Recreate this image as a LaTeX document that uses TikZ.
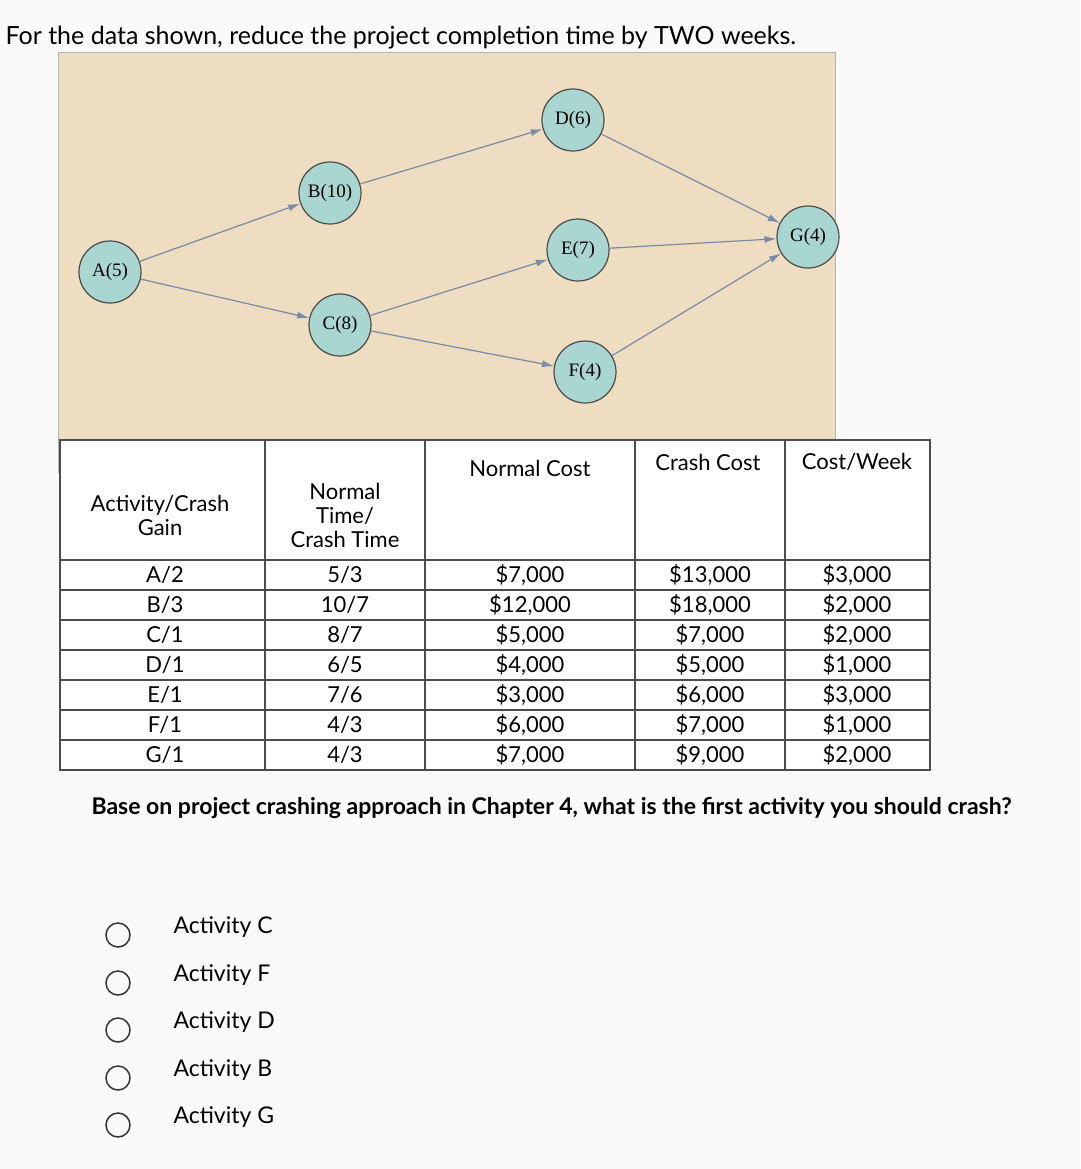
\documentclass[tikz,border=0pt]{standalone}
\usepackage{fontspec}
\setmainfont{Lato}
\newfontfamily\serifnode{Liberation Serif}
\usetikzlibrary{arrows.meta}
\definecolor{panel}{HTML}{EEDDC0}
\definecolor{nodefill}{HTML}{A9D6D0}
\definecolor{linkc}{HTML}{7A8BA8}
\begin{document}
\begin{tikzpicture}[x=1pt,y=-1pt,
  act/.style={circle,draw=black!70,line width=1.2pt,fill=nodefill,minimum size=62pt,inner sep=0pt,font=\serifnode\fontsize{19}{20}\selectfont},
  link/.style={draw=linkc,line width=1.2pt,-{Latex[length=12pt,width=7pt]}},
  cell/.style={font=\fontsize{22}{24}\selectfont,anchor=center},
  opt/.style={circle,draw=black!80,line width=1.5pt,minimum size=24pt,inner sep=0pt},
  optlab/.style={font=\fontsize{23}{25}\selectfont,anchor=west}]
\useasboundingbox[fill=gray!4] (0,0) rectangle (1080,1169);
\node[anchor=west,font=\fontsize{25}{27}\selectfont] (title) at (2,38) {For the data shown, reduce the project completion time by TWO weeks.};
\fill[panel] (58,52) rectangle (835,472);
\draw[gray!60] (58,52) rectangle (835,472);
\node[act] (A) at (110,272) {A(5)};
\node[act] (B) at (330,193) {B(10)};
\node[act] (C) at (340,325) {C(8)};
\node[act] (D) at (573,120) {D(6)};
\node[act] (E) at (578,250) {E(7)};
\node[act] (F) at (585,372) {F(4)};
\node[act] (G) at (808,237) {G(4)};
\draw[link] (A) -- (B);
\draw[link] (A) -- (C);
\draw[link] (B) -- (D);
\draw[link] (C) -- (E);
\draw[link] (C) -- (F);
\draw[link] (D) -- (G);
\draw[link] (E) -- (G);
\draw[link] (F) -- (G);
% table
\fill[white] (60,440) rectangle (930,770);
\draw[black!70,line width=1.5pt] (60,440) rectangle (930,770);
\foreach \x in {265,425,635,785} \draw[black!70,line width=1.5pt] (\x,440) -- (\x,770);
\draw[black!70,line width=1.5pt] (60,560) -- (930,560);
\foreach \y in {590,620,650,680,710,740} \draw[black!70,line width=1.2pt] (60,\y) -- (930,\y);
\node[cell,align=center] (h1) at (160,515) {Activity/Crash\\Gain};
\node[cell,align=center] (h2) at (345,515) {Normal\\Time/\\Crash Time};
\node[cell] (h3) at (530,468) {Normal Cost};
\node[cell] (h4) at (708,462) {Crash Cost};
\node[cell] (h5) at (857,462) {Cost/Week};
\foreach \a/\b/\n/\c/\w [count=\i] in {A/2/5/3/7,B/3/10/7/12,C/1/8/7/5,D/1/6/5/4,E/1/7/6/3,F/1/4/3/6,G/1/4/3/7}{
  \node[cell] (r\i a) at (165,545+30*\i) {\a/\b};
  \node[cell] (r\i b) at (345,545+30*\i) {\n/\c};
  \node[cell] (r\i c) at (530,545+30*\i) {\$\w,000};
}
\foreach \c/\w [count=\i] in {13/3,18/2,7/2,5/1,6/3,7/1,9/2}{
  \node[cell] (r\i d) at (710,545+30*\i) {\$\c,000};
  \node[cell] (r\i e) at (857,545+30*\i) {\$\w,000};
}
\node[anchor=west,font=\bfseries\fontsize{23}{25}\selectfont] (q) at (88,808) {Base on project crashing approach in Chapter 4, what is the first activity you should crash?};
\foreach \t/\y [count=\i] in {C/935,F/983,D/1030,B/1078,G/1125}{
  \node[opt] (o\i) at (118,\y) {};
  \node[optlab] (l\i) at (170,\y-8) {Activity \t};
}
\end{tikzpicture}
\end{document}
